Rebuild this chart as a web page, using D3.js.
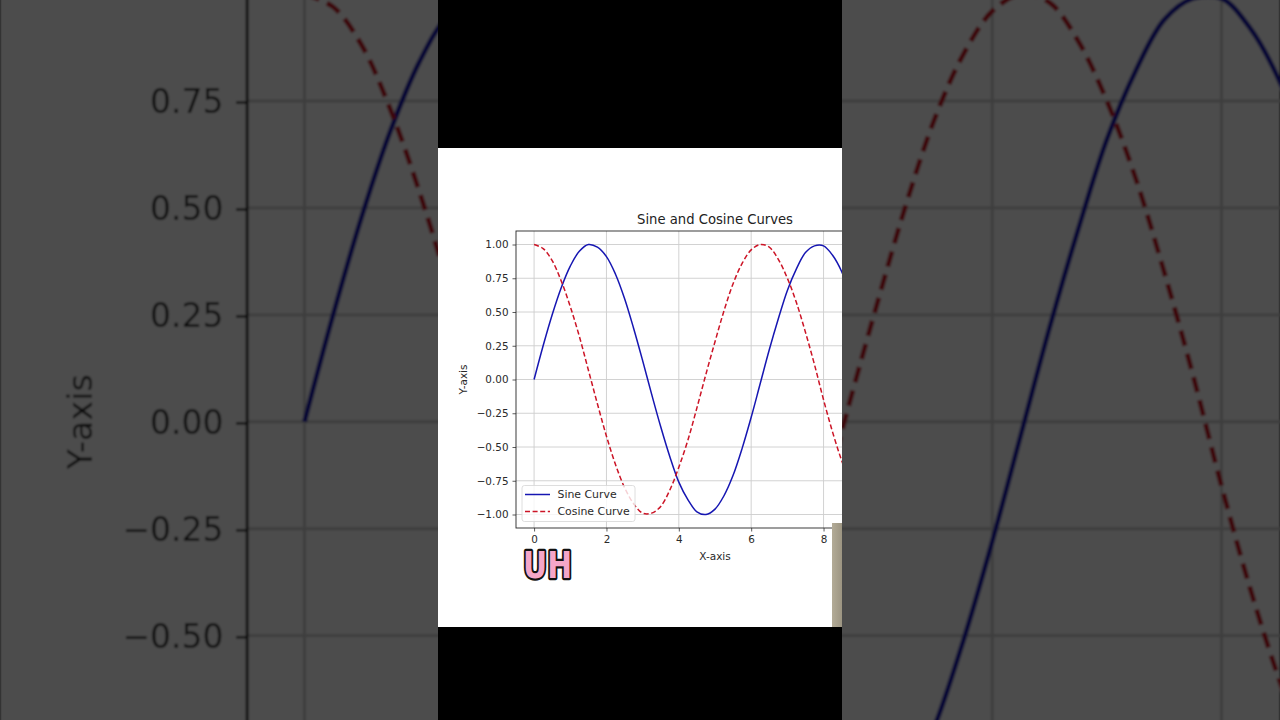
<!DOCTYPE html>
<html>
<head>
<meta charset="utf-8">
<script src="https://cdn.jsdelivr.net/npm/d3@7"></script>
<style>
  html, body { margin: 0; padding: 0; background: #000; }
  svg { display: block; }
  text { font-family: "DejaVu Sans", sans-serif; }
</style>
</head>
<body>
<svg id="frame" width="1280" height="720"></svg>
<script>
// ---- data ----
const xValues = [0, 0.25, 0.5, 0.75, 1, 1.25, 1.5, 1.75, 2, 2.25, 2.5, 2.75, 3, 3.25, 3.5, 3.75, 4, 4.25, 4.5, 4.75, 5,
                 5.25, 5.5, 5.75, 6, 6.25, 6.5, 6.75, 7, 7.25, 7.5, 7.75, 8, 8.25, 8.5, 8.75, 9, 9.25, 9.5, 9.75, 10];
const sineValues = [0.00, 0.25, 0.48, 0.68, 0.84, 0.95, 1.00, 0.98, 0.91, 0.78, 0.60, 0.38, 0.14, -0.11, -0.35, -0.57, -0.76, -0.89, -0.98, -1.00, -0.96,
                    -0.86, -0.71, -0.51, -0.28, -0.03, 0.22, 0.45, 0.66, 0.82, 0.94, 0.99, 0.99, 0.92, 0.80, 0.62, 0.41, 0.17, -0.08, -0.32, -0.54];
const cosineValues = [1.00, 0.97, 0.88, 0.73, 0.54, 0.32, 0.07, -0.18, -0.42, -0.63, -0.80, -0.92, -0.99, -0.99, -0.94, -0.82, -0.65, -0.45, -0.21, 0.04, 0.28,
                      0.51, 0.71, 0.86, 0.96, 1.00, 0.98, 0.89, 0.75, 0.57, 0.35, 0.11, -0.15, -0.39, -0.60, -0.78, -0.91, -0.98, -1.00, -0.95, -0.84];
const seriesNames = ["Sine Curve", "Cosine Curve"];
const xTicks = [0, 2, 4, 6, 8, 10];
const yTicks = [-1.00, -0.75, -0.50, -0.25, 0.00, 0.25, 0.50, 0.75, 1.00];
const chartTitle = "Sine and Cosine Curves";
const xLabel = "X-axis";
const yLabel = "Y-axis";
const captionText = "UH";

// ---- layout ----
const W = 1280, H = 720;
const panel = { x: 438, y: 148, w: 404, h: 479 };
const plot = { left: 516, right: 914, top: 231, bottom: 528 };
const bgScale = 1280 / 404;
const SINE_COLOR = "#1616b2";
const COS_COLOR = "#cc1426";

const svg = d3.select("#frame");
const defs = svg.append("defs");
defs.append("clipPath").attr("id", "panelClip")
  .append("rect").attr("x", panel.x).attr("y", panel.y).attr("width", panel.w).attr("height", panel.h);
defs.append("clipPath").attr("id", "plotClip")
  .append("rect").attr("x", plot.left).attr("y", plot.top)
  .attr("width", plot.right - plot.left).attr("height", plot.bottom - plot.top);
const blur = defs.append("filter").attr("id", "bgBlur")
  .attr("filterUnits", "userSpaceOnUse").attr("x", -20).attr("y", -20).attr("width", W + 40).attr("height", H + 40);
blur.append("feGaussianBlur").attr("stdDeviation", 1.3);

const x = d3.scaleLinear().domain([-0.5, 10.5]).range([plot.left, plot.right]);
const y = d3.scaleLinear().domain([-1.1, 1.1]).range([plot.bottom, plot.top]);
const fmt = d3.format(".2f");

const sineData = xValues.map((v, i) => ({ x: v, y: sineValues[i] }));
const cosData = xValues.map((v, i) => ({ x: v, y: cosineValues[i] }));
const line = d3.line().x(d => x(d.x)).y(d => y(d.y)).curve(d3.curveCatmullRom.alpha(0.5));

// isBg: the enlarged background copy only shows the upper-left part of the chart,
// so texts that fall outside the frame there are not drawn.
function drawChart(g, isBg) {
  g.append("rect").attr("x", panel.x).attr("y", panel.y).attr("width", panel.w).attr("height", panel.h).attr("fill", "#ffffff");

  // grid
  const grid = g.append("g");
  grid.selectAll("line.gx").data(xTicks).join("line").attr("class", "gx")
    .attr("x1", d => x(d)).attr("x2", d => x(d)).attr("y1", plot.top).attr("y2", plot.bottom)
    .attr("stroke", "#cdcdcd").attr("stroke-width", 0.9);
  grid.selectAll("line.gy").data(yTicks).join("line").attr("class", "gy")
    .attr("y1", d => y(d)).attr("y2", d => y(d)).attr("x1", plot.left).attr("x2", plot.right)
    .attr("stroke", "#cdcdcd").attr("stroke-width", 0.9);

  // curves
  const curves = g.append("g").attr("clip-path", "url(#plotClip)");
  curves.append("path").datum(sineData).attr("d", line)
    .attr("fill", "none").attr("stroke", SINE_COLOR).attr("stroke-width", isBg ? 1.6 : 1.5);
  curves.append("path").datum(cosData).attr("d", line)
    .attr("fill", "none").attr("stroke", COS_COLOR).attr("stroke-width", isBg ? 1.6 : 1.5)
    .attr("stroke-dasharray", "5,2.6");

  // axes
  const xAxis = g.append("g").attr("transform", `translate(0,${plot.bottom})`)
    .call(d3.axisBottom(x).tickValues(xTicks).tickFormat(d3.format("d")).tickSize(3.5).tickPadding(4.5).tickSizeOuter(0));
  const yAxis = g.append("g").attr("transform", `translate(${plot.left},0)`)
    .call(d3.axisLeft(y).tickValues(yTicks).tickFormat(fmt).tickSize(3.5).tickPadding(4).tickSizeOuter(0));
  [xAxis, yAxis].forEach(a => {
    a.select(".domain").remove();
    a.selectAll(".tick line").attr("stroke", "#333").attr("stroke-width", 0.8);
    a.selectAll(".tick text").attr("fill", "#2a2a2a").style("font-size", "10.4px").style("font-family", "DejaVu Sans");
  });
  if (isBg) {
    xAxis.selectAll(".tick text").remove();
    // keep only y tick labels that are inside the frame once enlarged
    yAxis.selectAll(".tick").filter(d => d > 0.9 || d < -0.6).select("text").remove();
  }

  // spines
  g.append("rect").attr("x", plot.left).attr("y", plot.top)
    .attr("width", plot.right - plot.left).attr("height", plot.bottom - plot.top)
    .attr("fill", "none").attr("stroke", "#262626").attr("stroke-width", 0.9);

  // labels
  if (!isBg) {
    g.append("text").attr("x", (plot.left + plot.right) / 2).attr("y", 224)
      .attr("text-anchor", "middle").attr("fill", "#222").style("font-size", "13.2px").text(chartTitle);
    g.append("text").attr("x", (plot.left + plot.right) / 2).attr("y", 560)
      .attr("text-anchor", "middle").attr("fill", "#2a2a2a").style("font-size", "10.5px").text(xLabel);
  }
  g.append("text").attr("transform", `translate(467,${y(0)}) rotate(-90)`)
    .attr("text-anchor", "middle").attr("fill", "#2a2a2a").style("font-size", "10.5px").text(yLabel);

  // legend
  if (!isBg) {
    const lg = g.append("g");
    lg.append("rect").attr("x", 522).attr("y", 485.5).attr("width", 113).attr("height", 36).attr("rx", 2.5)
      .attr("fill", "#ffffff").attr("fill-opacity", 0.8).attr("stroke", "#d6d6d6").attr("stroke-width", 0.8);
    const items = [
      { name: seriesNames[0], color: SINE_COLOR, dash: null },
      { name: seriesNames[1], color: COS_COLOR, dash: "5,2.6" }
    ];
    items.forEach((it, i) => {
      const yy = 494.5 + i * 17;
      lg.append("line").attr("x1", 525).attr("x2", 550).attr("y1", yy).attr("y2", yy)
        .attr("stroke", it.color).attr("stroke-width", 1.5).attr("stroke-dasharray", it.dash);
      lg.append("text").attr("x", 557.5).attr("y", yy + 3.8).attr("fill", "#2a2a2a")
        .style("font-size", "10.9px").text(it.name);
    });
  }
}

// ---- blurred, enlarged, darkened background copy ----
const bgOuter = svg.append("g").attr("filter", "url(#bgBlur)");
const bgInner = bgOuter.append("g")
  .attr("transform", `translate(640,360) scale(${bgScale}) translate(-640,-360)`);
drawChart(bgInner, true);
svg.append("rect").attr("x", 0).attr("y", 0).attr("width", W).attr("height", H).attr("fill", "#000").attr("opacity", 0.7);

// ---- center video column ----
svg.append("rect").attr("x", panel.x).attr("y", 0).attr("width", panel.w).attr("height", H).attr("fill", "#000");
const fg = svg.append("g").attr("clip-path", "url(#panelClip)");
drawChart(fg, false);

// side overlay in the panel corner
const grad = defs.append("linearGradient").attr("id", "beige").attr("x1", 0).attr("x2", 1).attr("y1", 0).attr("y2", 0);
grad.append("stop").attr("offset", 0).attr("stop-color", "#b3ab97");
grad.append("stop").attr("offset", 1).attr("stop-color", "#9c9582");
svg.append("rect").attr("x", 832).attr("y", 523).attr("width", 10).attr("height", 104).attr("fill", "url(#beige)");

// caption
svg.append("text").attr("x", 523).attr("y", 578)
  .attr("textLength", 49).attr("lengthAdjust", "spacingAndGlyphs")
  .style("font-size", "37px").style("font-weight", "bold").style("font-family", "DejaVu Sans")
  .attr("fill", "#f5a6c8").attr("stroke", "#111").attr("stroke-width", 4.5)
  .attr("stroke-linejoin", "round").attr("paint-order", "stroke")
  .text(captionText);
</script>
</body>
</html>
